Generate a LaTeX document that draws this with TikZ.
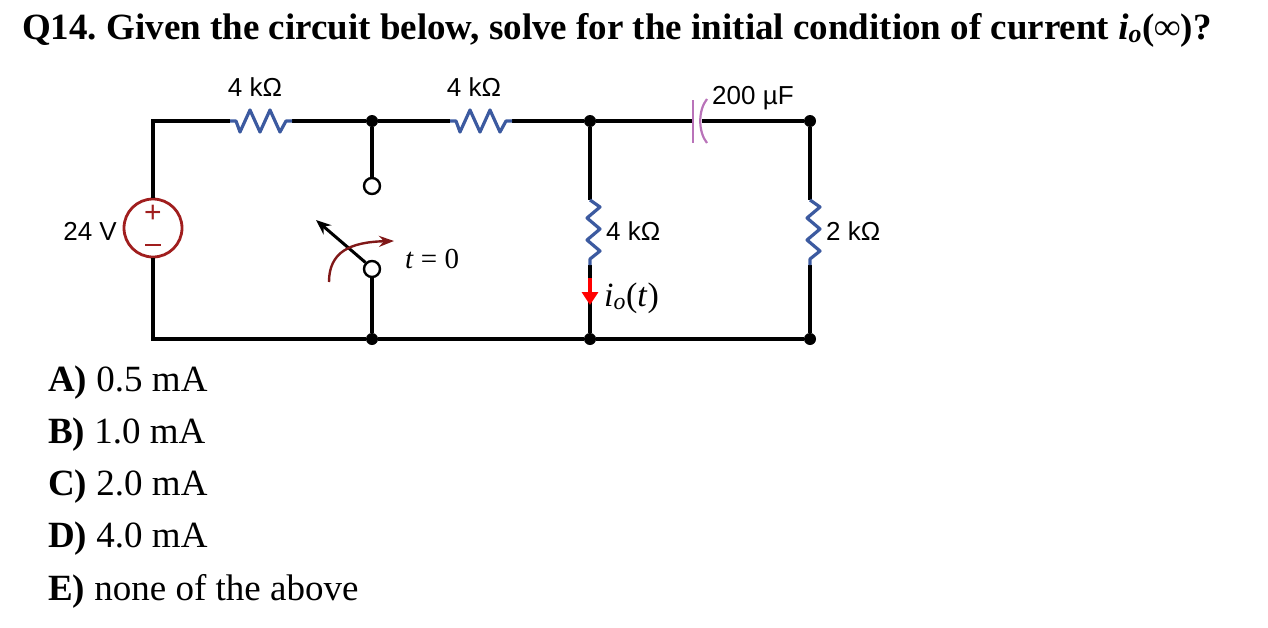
\documentclass[tikz,border=0pt]{standalone}
\usepackage{fontspec}
\setmainfont{Liberation Serif}
\newfontfamily\lsans{Liberation Sans}
\usetikzlibrary{arrows.meta}
\begin{document}
\begin{tikzpicture}[x=1pt,y=-1pt,
  wire/.style={line width=3.4pt,black},
  res/.style={line width=3.2pt,line join=round},
  dot/.style={circle,fill=black,inner sep=0pt,minimum size=12pt},
  term/.style={circle,draw=black,line width=2.4pt,fill=white,inner sep=0pt,minimum size=16pt},
  lab/.style={font=\lsans\fontsize{26}{28}\selectfont,inner sep=0pt},
  opt/.style={font=\fontsize{37}{40}\selectfont,anchor=west,inner sep=0pt}]
\useasboundingbox (0,0) rectangle (1268,627);
\definecolor{resblue}{RGB}{60,90,160}
\definecolor{srcred}{RGB}{160,30,30}
% nodes
\coordinate (tl) at (153,121); \coordinate (bl) at (153,339);
\node[dot] (n1) at (372,121) {}; \node[dot] (n2) at (590,121) {}; \node[dot] (n3) at (810,121) {};
\node[dot] (b1) at (372,339) {}; \node[dot] (b2) at (590,339) {}; \node[dot] (b3) at (810,339) {};
\node[circle,draw=srcred,line width=2.8pt,minimum size=58pt,inner sep=0pt] (src) at (153,228) {};
% wires
\draw[wire] (src.north) -- (tl) -- (230,121);
\draw[wire] (292,121) -- (n1) -- (450,121);
\draw[wire] (512,121) -- (n2) -- (693,121);
\draw[wire] (702,121) -- (n3);
\draw[wire] (src.south) -- (bl) -- (b1) -- (b2) -- (b3);
\draw[wire] (n2) -- (590,200); \draw[wire] (590,265) -- (b2);
\draw[wire] (n3) -- (810,200); \draw[wire] (810,265) -- (b3);
% resistors
\draw[res,color=resblue] (230,121) -- (236,121) -- (240,132) -- (250,110) -- (260,132) -- (270,110) -- (280,132) -- (286,121) -- (292,121);
\draw[res,color=resblue] (450,121) -- (456,121) -- (460,132) -- (470,110) -- (480,132) -- (490,110) -- (500,132) -- (506,121) -- (512,121);
\foreach \x in {590,810}{
\draw[res,color=resblue] (\x,200) -- (\x+10,207) -- (\x-3,218) -- (\x+10,229) -- (\x-3,240) -- (\x+10,251) -- (\x,259) -- (\x,265);}
% capacitor
\draw[line width=2.2pt,color=violet!55] (693,100) -- (693,143);
\draw[line width=2.2pt,color=violet!55] (707,99) .. controls (698,110) and (698,132) .. (707,143);
% source signs
\node[font=\lsans\fontsize{30}{30}\selectfont,text=srcred,inner sep=0pt] at (153,214) {+};
\draw[srcred,line width=1.8pt] (145,245) -- (161,245);
% switch
\node[term] (s1) at (372,186) {};
\node[term] (s2) at (372,269) {};
\draw[wire] (n1) -- (s1.north);
\draw[wire] (s2.south) -- (b1);
\draw[line width=3pt,-{Stealth[length=15pt,width=12pt]}] (s2.north west) -- (316,220);
\draw[line width=2.4pt,color=srcred!80!black,-{Stealth[length=15pt,width=11pt]}] (329,282) .. controls (329,252) and (350,242) .. (394,241);
% current arrow
\draw[red,line width=4.5pt,-{Triangle[length=13pt,width=16pt]}] (590,278) -- (590,305);
% labels
\node[lab] at (255,87) {4 kΩ};
\node[lab] at (474,87) {4 kΩ};
\node[lab,anchor=west] at (712,98) {200 \textmu F};
\node[lab,anchor=east] at (117,231) {24 V};
\node[lab,anchor=west] at (606,231) {4 kΩ};
\node[lab,anchor=west] at (826,231) {2 kΩ};
\node[font=\fontsize{29}{29}\selectfont,inner sep=0pt] at (432,259) {\textit{t} = 0};
\node[font=\fontsize{34}{34}\selectfont,inner sep=0pt,anchor=west] at (604,298) {\textit{i}\textsubscript{\textit{o}}(\textit{t})};
% text
\node[anchor=west,inner sep=0pt,font=\bfseries\fontsize{37}{40}\selectfont] at (22,30) {Q14.\ Given the circuit below, solve for the initial condition of current \textit{i}\textsubscript{\textit{o}}(∞)?};
\node[opt] at (48,383) {\textbf{A)} 0.5 mA};
\node[opt] at (48,435) {\textbf{B)} 1.0 mA};
\node[opt] at (48,487) {\textbf{C)} 2.0 mA};
\node[opt] at (48,539) {\textbf{D)} 4.0 mA};
\node[opt] at (48,591) {\textbf{E)} none of the above};
\end{tikzpicture}
\end{document}
